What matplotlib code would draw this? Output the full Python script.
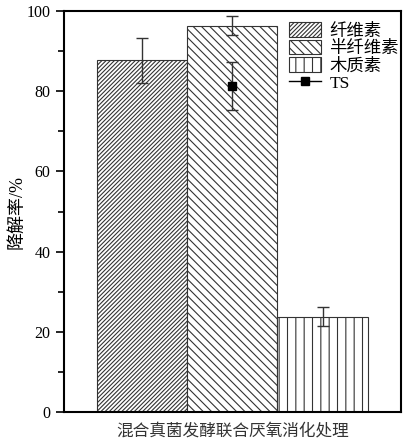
import matplotlib
matplotlib.use("Agg")
import matplotlib.pyplot as plt
from matplotlib.patches import Patch
from matplotlib.lines import Line2D
from matplotlib.ticker import MultipleLocator

plt.rcParams['font.family'] = ['Liberation Serif', 'Noto Sans CJK SC']
plt.rcParams['hatch.linewidth'] = 0.8

components = ["纤维素", "半纤维素", "木质素"]
rates = [87.7, 96.4, 23.8]
rate_err = [5.7, 2.3, 2.3]
hatches = ["////////", "\\\\\\\\", "||"]
ts_rate = 81.4
ts_err = 6.0
xlabel = "混合真菌发酵联合厌氧消化处理"
ylabel = "降解率/%"

fig = plt.figure(figsize=(4.07, 4.44), dpi=100)
ax = fig.add_axes([0.157, 0.072, 0.828, 0.903])

pos = [1, 2, 3]
for p, r, e, h, name in zip(pos, rates, rate_err, hatches, components):
    ax.bar(p, r, width=1.0, color="white", edgecolor="#333333",
           hatch=h, linewidth=0.8, zorder=2)
    ax.errorbar(p, r, yerr=e, fmt="none", ecolor="#333333",
                elinewidth=1.0, capsize=4, capthick=1.0, zorder=3)

ax.errorbar(2, ts_rate, yerr=ts_err, fmt="s", color="black", ms=6,
            ecolor="#333333", elinewidth=1.0, capsize=4, capthick=1.0, zorder=4)

ax.set_xlim(0.13, 3.87)
ax.set_ylim(0, 100)
ax.set_xticks([])
ax.yaxis.set_major_locator(MultipleLocator(20))
ax.yaxis.set_minor_locator(MultipleLocator(10))
ax.tick_params(axis="y", which="major", direction="out", length=6, width=1.2, labelsize=11.5)
ax.tick_params(axis="y", which="minor", direction="out", length=4, width=1.2)
for s in ax.spines.values():
    s.set_linewidth(1.5)

ax.set_xlabel(xlabel, fontsize=12, labelpad=8, color="#333333")
ax.set_ylabel(ylabel, fontsize=13, labelpad=1)

handles = [Patch(facecolor="white", edgecolor="#333333", hatch=h, linewidth=0.8)
           for h in hatches]
handles.append(Line2D([0], [0], color="black", marker="s", ms=6, lw=1.0))
labels = components + ["TS"]
ax.legend(handles, labels, loc="upper right", frameon=False, fontsize=12.5,
          handlelength=1.85, handleheight=0.95, handletextpad=0.5,
          labelspacing=0.0, borderaxespad=0.0, bbox_to_anchor=(1.015, 0.99))

fig.savefig("out.png", dpi=100)
